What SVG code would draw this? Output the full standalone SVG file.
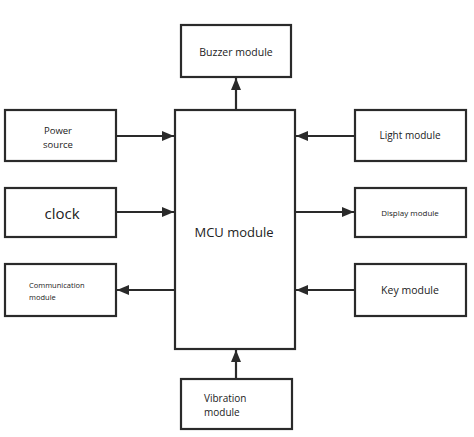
<svg xmlns="http://www.w3.org/2000/svg" width="474" height="437" viewBox="0 0 474 437">
<defs>
<marker id="ah" viewBox="0 0 12 10" refX="12" refY="5" markerWidth="12" markerHeight="10" markerUnits="userSpaceOnUse" orient="auto">
<path d="M0,0 L12,5 L0,10 Z" fill="#2a2a2a"/>
</marker>
<style>
.box{fill:#fff;stroke:#2a2a2a;stroke-width:2.2}
.ln{stroke:#2a2a2a;stroke-width:2.2;fill:none;marker-end:url(#ah)}
text{font-family:"Open Sans","Noto Sans","Liberation Sans",sans-serif;fill:#222}
.c{text-anchor:middle;dominant-baseline:central}
.l{dominant-baseline:central}
</style>
</defs>
<rect width="474" height="437" fill="#fff"/>
<g id="connectors">
<line class="ln" x1="236" y1="110" x2="236" y2="78"/>
<line class="ln" x1="116" y1="136" x2="174" y2="136"/>
<line class="ln" x1="116" y1="212" x2="174" y2="212"/>
<line class="ln" x1="175" y1="290" x2="117" y2="290"/>
<line class="ln" x1="355" y1="136" x2="296" y2="136"/>
<line class="ln" x1="295" y1="212" x2="354" y2="212"/>
<line class="ln" x1="355" y1="290" x2="296" y2="290"/>
<line class="ln" x1="236" y1="379" x2="236" y2="350"/>
</g>
<g id="mcu"><rect class="box" x="175" y="110" width="120" height="239"/><text class="c" x="234" y="232" font-size="13">MCU module</text></g>
<g id="buzzer"><rect class="box" x="181" y="25" width="110" height="52"/><text class="c" x="236" y="52" font-size="10.5">Buzzer module</text></g>
<g id="power"><rect class="box" x="5" y="110" width="111" height="51"/><text class="c" x="58" y="130" font-size="9.5">Power</text><text class="c" x="58" y="144" font-size="9.5">source</text></g>
<g id="clock"><rect class="box" x="5" y="188" width="111" height="49"/><text class="c" x="62" y="213" font-size="15">clock</text></g>
<g id="communication"><rect class="box" x="5" y="264" width="111" height="52"/><text class="l" x="29" y="285" font-size="7.5">Communication</text><text class="l" x="29" y="297" font-size="7.5">module</text></g>
<g id="light"><rect class="box" x="355" y="110" width="111" height="51"/><text class="c" x="410" y="135" font-size="10">Light module</text></g>
<g id="display"><rect class="box" x="355" y="188" width="111" height="49"/><text class="c" x="410" y="212" font-size="8">Display module</text></g>
<g id="key"><rect class="box" x="355" y="264" width="111" height="52"/><text class="c" x="410" y="290" font-size="10.5">Key module</text></g>
<g id="vibration"><rect class="box" x="181" y="379" width="111" height="50"/><text class="l" x="204" y="398" font-size="10">Vibration</text><text class="l" x="204" y="412" font-size="10">module</text></g>
</svg>
